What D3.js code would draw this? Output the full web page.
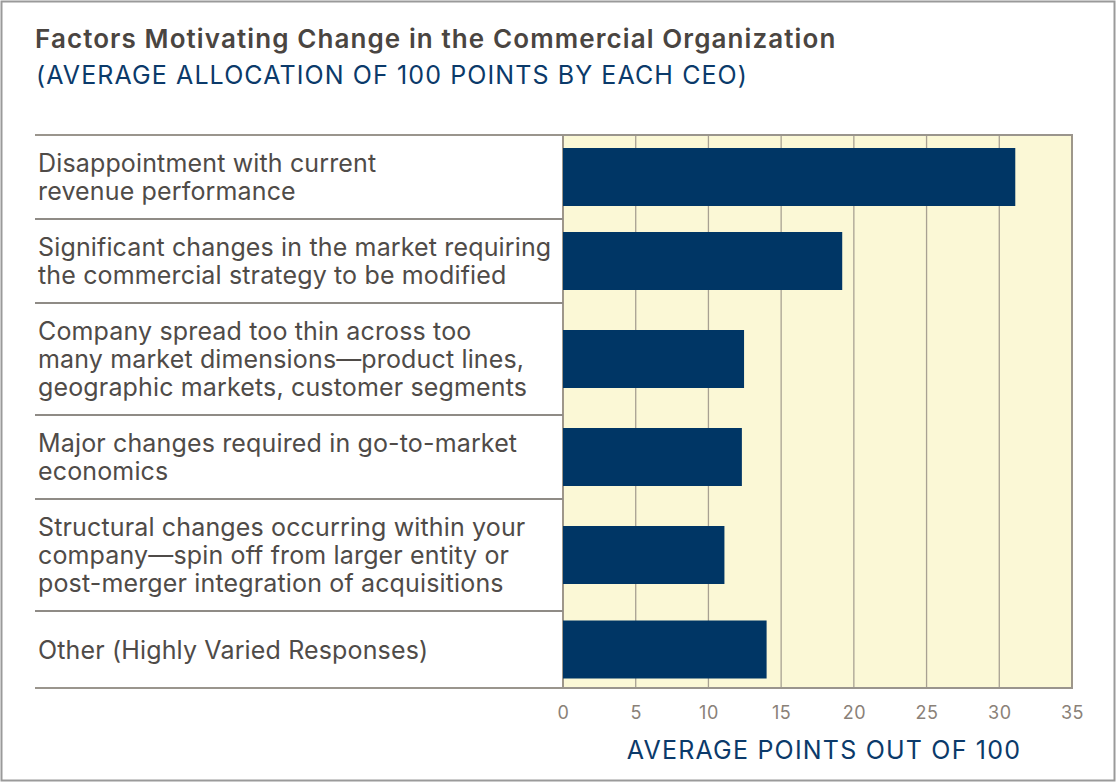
<!DOCTYPE html>
<html>
<head>
<meta charset="utf-8">
<script src="https://cdn.jsdelivr.net/npm/d3@7"></script>
<style>
  body { margin: 0; background: #fff; }
  text { font-family: Inter, Lato, sans-serif; }
</style>
</head>
<body>
<div id="chart"></div>
<script>
// chart data
var categories = [
    ["Disappointment with current", "revenue performance"],
    ["Significant changes in the market requiring", "the commercial strategy to be modified"],
    ["Company spread too thin across too", "many market dimensions\u2014product lines,", "geographic markets, customer segments"],
    ["Major changes required in go-to-market", "economics"],
    ["Structural changes occurring within your", "company\u2014spin off from larger entity or", "post-merger integration of acquisitions"],
    ["Other (Highly Varied Responses)"]
];
var values = [31.1, 19.2, 12.45, 12.3, 11.1, 14.0];
var ticks = [0, 5, 10, 15, 20, 25, 30, 35];

var title = "Factors Motivating Change in the Commercial Organization";
var subtitle = "(AVERAGE ALLOCATION OF 100 POINTS BY EACH CEO)";
var axisTitle = "AVERAGE POINTS OUT OF 100";

var width = 1118,
    height = 783;
var labelLeft = 35,
    plotLeft = 563,
    plotRight = 1072,
    plotTop = 135,
    lineH = 28,
    barH = 58;

var svg = d3.select('#chart').append('svg')
        .attr('width', width)
        .attr('height', height);

// outer frame
svg.append('rect')
        .attr('x', 1.5).attr('y', 1.5)
        .attr('width', 1113).attr('height', 779)
        .style('fill', '#fff')
        .style('stroke', '#9a9a9a')
        .style('stroke-width', 2);

svg.append('text')
        .attr('x', 35).attr('y', 48)
        .attr('font-size', 26).attr('font-weight', 600)
        .attr('letter-spacing', 1.1)
        .attr('fill', '#4a4541')
        .text(title);
svg.append('text')
        .attr('x', 36).attr('y', 84)
        .attr('font-size', 25)
        .attr('letter-spacing', 1.1)
        .attr('fill', '#0b3a6a')
        .text(subtitle);

// row heights depend on how many lines the label has
var rows = [];
var cursor = plotTop;
categories.forEach(function (c, i) {
    var h = Math.max(77, c.length * lineH + 28);
    rows.push({lines: c, value: values[i], top: cursor, h: h});
    cursor += h;
});
var plotBottom = cursor;

var x = d3.scaleLinear().domain([0, 35]).range([plotLeft, plotRight]);
var y = d3.scaleOrdinal()
        .domain(d3.range(rows.length))
        .range(rows.map(function (r) { return r.top + r.h / 2; }));

// plot background
svg.append('rect')
        .attr('x', x(0)).attr('y', plotTop)
        .attr('width', x(35) - x(0)).attr('height', plotBottom - plotTop)
        .style('fill', '#fbf8d6');

// vertical grid
svg.append('g').selectAll('line').data(ticks).enter().append('line')
        .attr('x1', function (d) { return x(d); })
        .attr('x2', function (d) { return x(d); })
        .attr('y1', plotTop).attr('y2', plotBottom)
        .style('stroke', function (d) { return d === 0 || d === 35 ? '#9e978a' : '#a8a192'; })
        .style('stroke-width', function (d) { return d === 0 || d === 35 ? 2 : 1.3; });

// row separators
svg.append('g').selectAll('line').data(rows.slice(1)).enter().append('line')
        .attr('x1', labelLeft).attr('x2', x(0))
        .attr('y1', function (d) { return d.top; })
        .attr('y2', function (d) { return d.top; })
        .style('stroke', '#8f8b86').style('stroke-width', 2);

// top and bottom rules
[plotTop, plotBottom].forEach(function (yy) {
    svg.append('line')
            .attr('x1', labelLeft).attr('x2', x(35) + 1)
            .attr('y1', yy).attr('y2', yy)
            .style('stroke', '#9a958d').style('stroke-width', 2);
});

// bars
svg.append('g').selectAll('rect').data(rows).enter().append('rect')
        .attr('x', x(0))
        .attr('y', function (d, i) { return y(i) - barH / 2; })
        .attr('width', function (d) { return x(d.value) - x(0); })
        .attr('height', barH)
        .style('fill', '#003665');

// labels
var lab = svg.append('g').selectAll('text').data(rows).enter().append('text')
        .attr('font-size', 25)
        .attr('letter-spacing', 0.15)
        .attr('fill', '#4f4b48')
        .attr('y', function (d, i) { return y(i) - (d.lines.length - 1) * lineH / 2 + 9; });
lab.selectAll('tspan').data(function (d) { return d.lines; }).enter().append('tspan')
        .attr('x', 38)
        .attr('dy', function (d, j) { return j === 0 ? 0 : lineH; })
        .text(function (d) { return d; });

// x axis labels
var axis = d3.axisBottom(x).tickValues(ticks).tickSize(0).tickPadding(0);
var ag = svg.append('g').attr('transform', 'translate(0,' + (plotBottom + 18) + ')').call(axis);
ag.select('.domain').remove();
ag.selectAll('text')
        .attr('font-size', 18)
        .attr('font-family', 'Inter, sans-serif')
        .attr('letter-spacing', 0.5)
        .attr('fill', '#8a8178')
        .attr('dy', '0.71em');

svg.append('text')
        .attr('x', 824).attr('y', 759)
        .attr('text-anchor', 'middle')
        .attr('font-size', 25)
        .attr('letter-spacing', 1.2)
        .attr('fill', '#0b3a6a')
        .text(axisTitle);
</script>
</body>
</html>
